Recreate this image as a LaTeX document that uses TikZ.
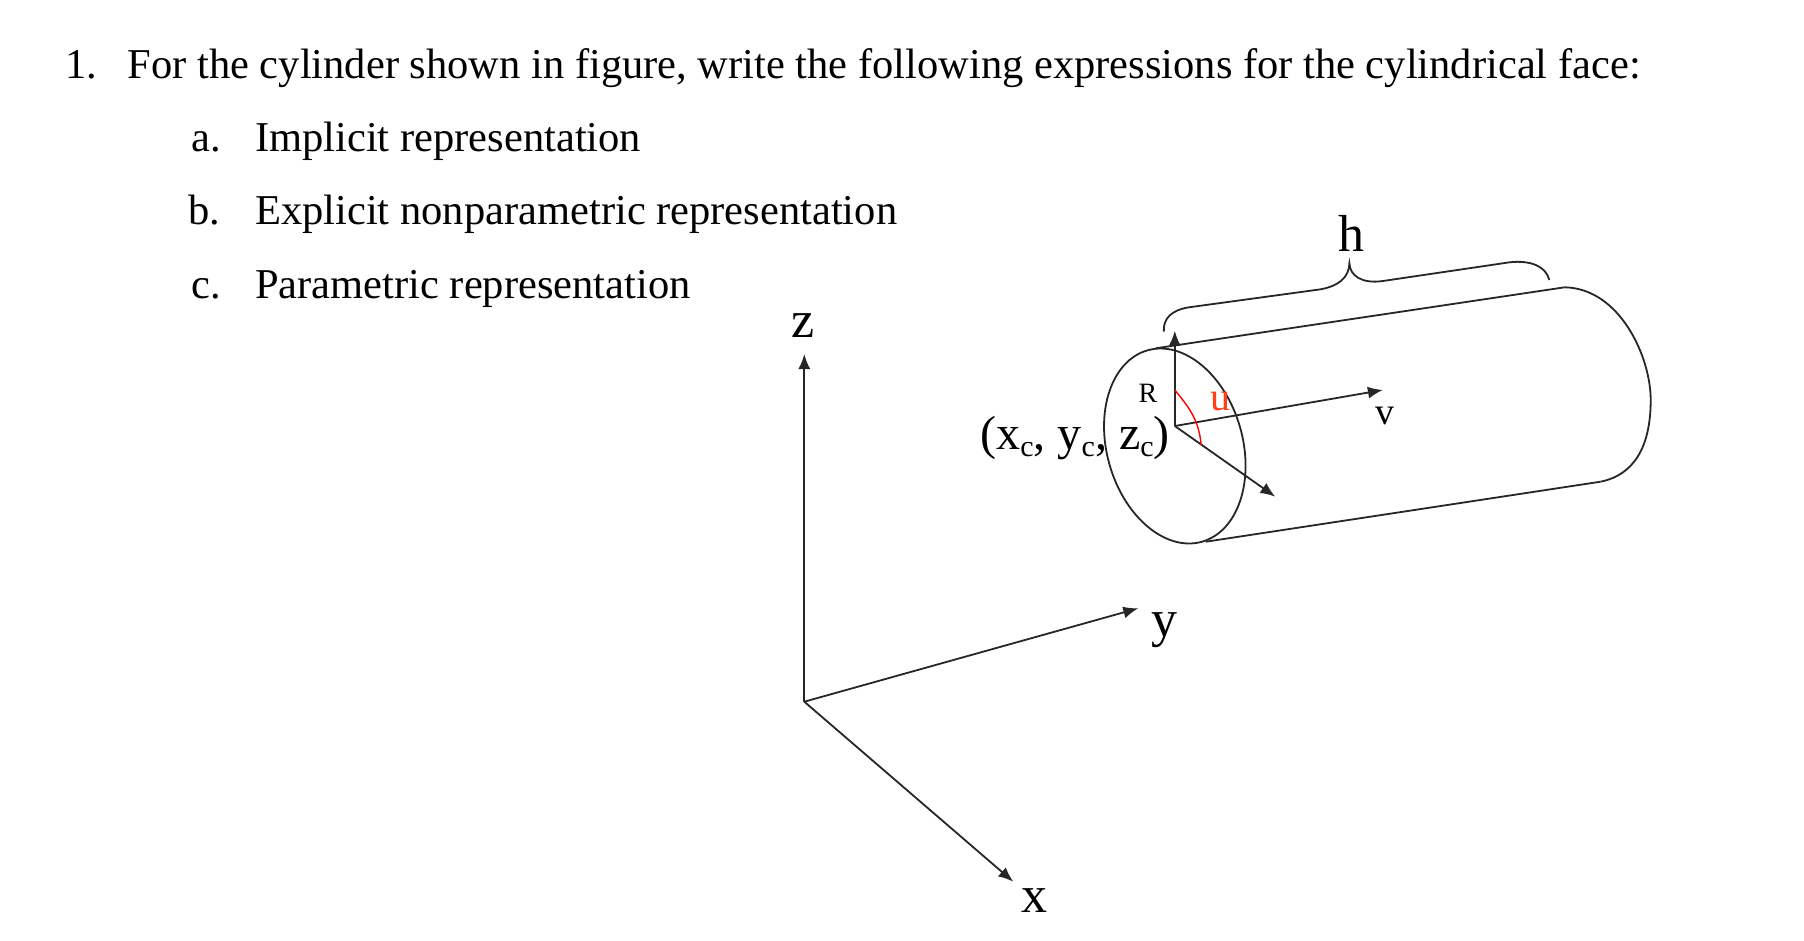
\documentclass[tikz,border=0pt]{standalone}
\usepackage{fontspec}
\setmainfont{Liberation Serif}
\usetikzlibrary{arrows.meta, shapes.geometric}
\definecolor{ulbl}{rgb}{1,.25,.1}
\newcommand{\subc}{\raisebox{-7pt}{\fontsize{30}{30}\selectfont c}}
\tikzset{
txt/.style={anchor=base west, inner sep=0pt, font=\fontsize{42.5}{50}\selectfont},
axlbl/.style={inner sep=0pt, font=\fontsize{52}{56}\selectfont},
line/.style={line width=1.8pt, draw=black!85},
axis/.style={line, -{Latex[length=15pt,width=12pt]}},
}
\begin{document}
\begin{tikzpicture}[x=1pt, y=-1pt]
\useasboundingbox (0,0) rectangle (1804,940);
\node[txt](n1) at (65,78){1.};
\node[txt](q) at (127.5,78){For the cylinder shown in figure, write the following expressions for the cylindrical face:};
\node[txt](na) at (191,151){a.};
\node[txt](qa) at (255,151){Implicit representation};
\node[txt](nb) at (188,224){b.};
\node[txt](qb) at (255,224){Explicit nonparametric representation};
\node[txt](nc) at (191,298){c.};
\node[txt](qc) at (255,298){Parametric representation};
% axes
\coordinate (o) at (804.3,701.7);
\coordinate (xtip) at (1013.3,881.7);
\coordinate (ytip) at (1138.3,608.3);
\coordinate (ztip) at (804.3,354);
\draw[axis] (o) -- (xtip);
\draw[axis] (o) -- (ytip);
\draw[axis] (o) -- (ztip);
\node[axlbl](xl) at (1034.5,901){x};
\node[axlbl](yl) at (1164.5,630){y};
\node[axlbl](zl) at (803,326){z};
% cylinder
\coordinate (c) at (1174.8,446);
\coordinate (a1) at (1155.7,348.3);
\coordinate (a2) at (1564.6,287.3);
\coordinate (b1) at (1205.9,541.7);
\coordinate (b2) at (1600.5,481.7);
\node[draw, line, ellipse, minimum width=135.8pt, minimum height=199pt, inner sep=0pt, outer sep=0pt, rotate=15.9](face) at (c){};
\draw[line] (a1) -- (a2);
\draw[line] (b1) -- (b2);
\draw[line] (a2) .. controls (1619.6,288.3) and (1650.7,356.7) .. (1650.7,400) .. controls (1650.7,446.7) and (1634,475) .. (b2);
% local frame
\coordinate (p) at (1174.8,426);
\coordinate (ptop) at (1174.8,330.7);
\coordinate (pv) at (1382.9,390);
\coordinate (pr) at (1275.3,496.7);
\draw[axis] (p) -- (ptop);
\draw[axis] (p) -- (pv);
\draw[axis] (p) -- (pr);
\draw[red, line width=1.4pt] (1174.8,390) .. controls (1186,404) and (1199,418) .. (1201.1,445);
\node[inner sep=0pt, font=\fontsize{28}{30}\selectfont](rl) at (1148,393.3){R};
\node[inner sep=0pt, ulbl, font=\fontsize{40}{44}\selectfont](ul) at (1220,402){u};
\node[inner sep=0pt, font=\fontsize{38}{40}\selectfont](vl) at (1385,416){v};
\node[inner sep=0pt, font=\fontsize{48}{50}\selectfont](cl) at (1075,438){(x\subc, y\subc, z\subc)};
% brace
\draw[line] (1163.8,331.7) .. controls (1163,318) and (1172,310) .. (1189,307.3) -- (1320.7,289.3) .. controls (1338,286) and (1349,278) .. (1349.4,263.3) .. controls (1350,276) and (1362,284) .. (1382.9,281) -- (1509.6,262.3) .. controls (1530,260) and (1546,266) .. (1549.3,280);
\node[axlbl](hl) at (1351,233){h};
\end{tikzpicture}
\end{document}
